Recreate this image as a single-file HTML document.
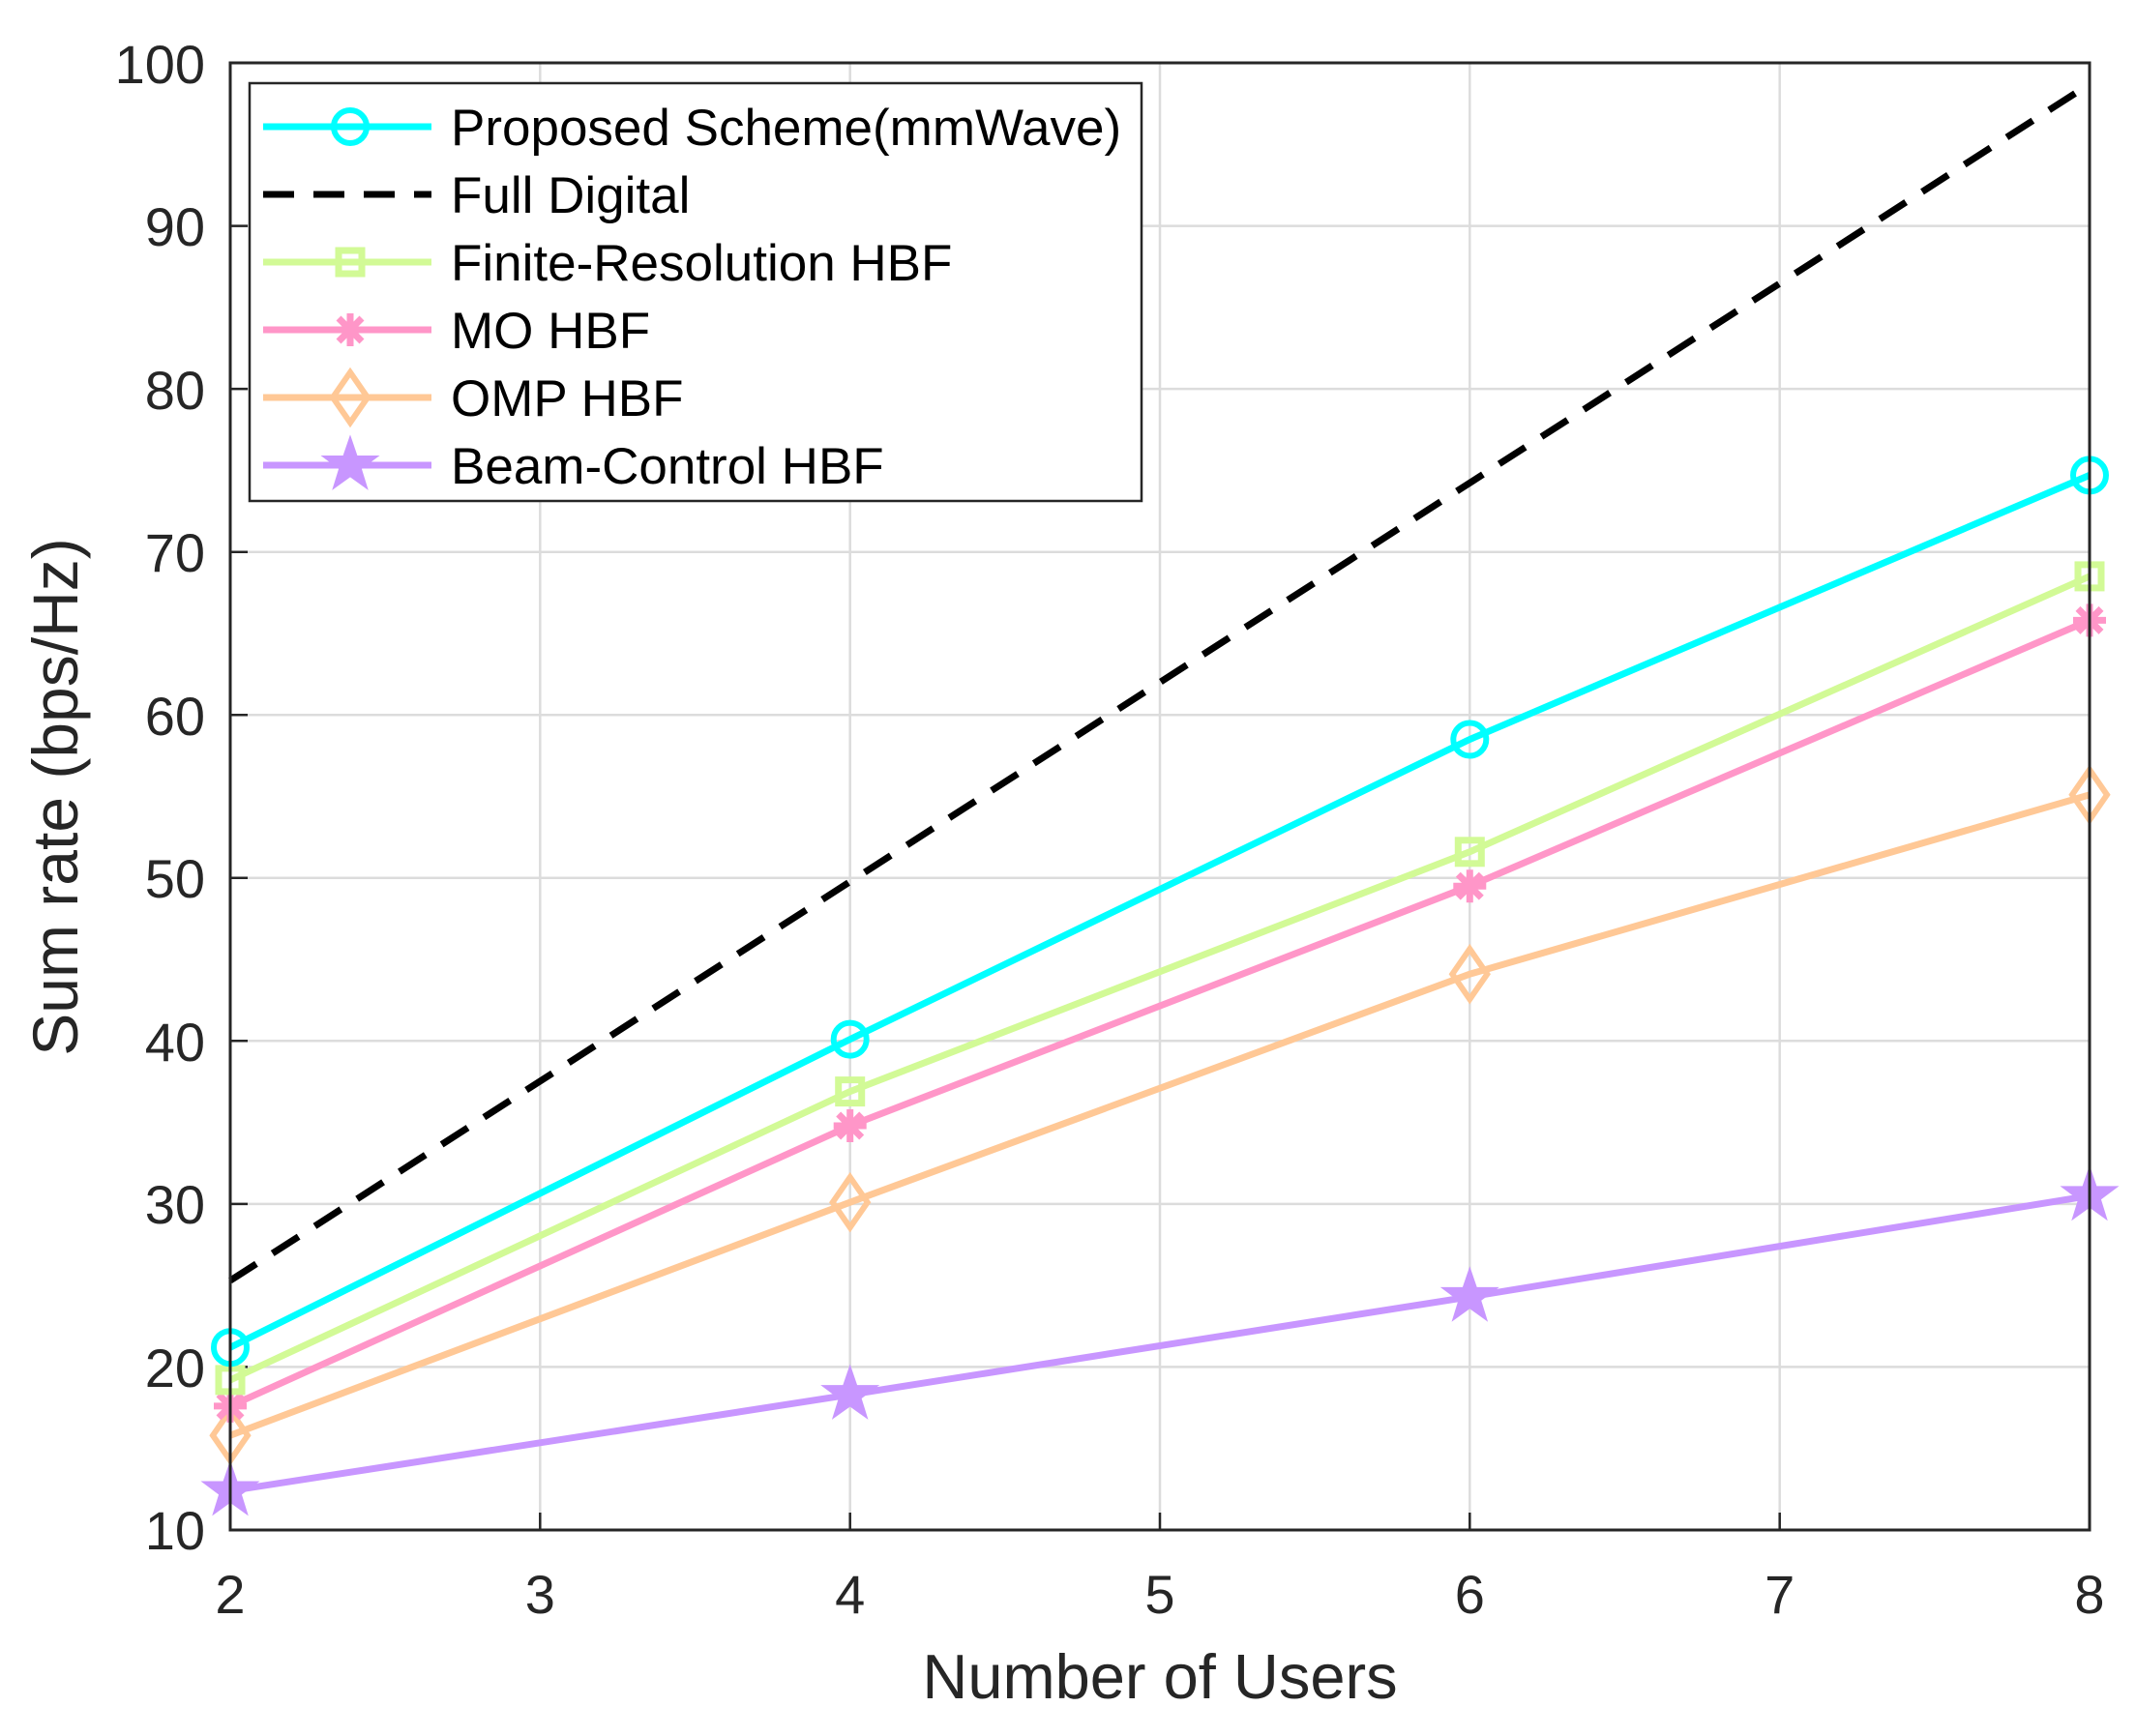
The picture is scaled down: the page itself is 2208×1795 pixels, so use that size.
<!DOCTYPE html>
<html><head><style>body{margin:0;background:#fff}</style></head><body>
<svg width="2208" height="1790" xmlns="http://www.w3.org/2000/svg" font-family="Liberation Sans, Arial, sans-serif">
<rect width="2208" height="1790" fill="#fff"/>
<g stroke="#dcdcdc" stroke-width="2.5">
<line x1="558.3" y1="65" x2="558.3" y2="1582"/><line x1="878.7" y1="65" x2="878.7" y2="1582"/><line x1="1199" y1="65" x2="1199" y2="1582"/><line x1="1519.3" y1="65" x2="1519.3" y2="1582"/><line x1="1839.7" y1="65" x2="1839.7" y2="1582"/>
<line x1="238" y1="233.6" x2="2160" y2="233.6"/><line x1="238" y1="402.1" x2="2160" y2="402.1"/><line x1="238" y1="570.7" x2="2160" y2="570.7"/><line x1="238" y1="739.2" x2="2160" y2="739.2"/><line x1="238" y1="907.8" x2="2160" y2="907.8"/><line x1="238" y1="1076.3" x2="2160" y2="1076.3"/><line x1="238" y1="1244.9" x2="2160" y2="1244.9"/><line x1="238" y1="1413.4" x2="2160" y2="1413.4"/>
</g>
<g stroke="#262626" stroke-width="2.5">
<line x1="238" y1="1582" x2="238" y2="1564"/><line x1="558.3" y1="1582" x2="558.3" y2="1564"/><line x1="878.7" y1="1582" x2="878.7" y2="1564"/><line x1="1199" y1="1582" x2="1199" y2="1564"/><line x1="1519.3" y1="1582" x2="1519.3" y2="1564"/><line x1="1839.7" y1="1582" x2="1839.7" y2="1564"/>
<line x1="238" y1="233.6" x2="256" y2="233.6"/><line x1="238" y1="402.1" x2="256" y2="402.1"/><line x1="238" y1="570.7" x2="256" y2="570.7"/><line x1="238" y1="739.2" x2="256" y2="739.2"/><line x1="238" y1="907.8" x2="256" y2="907.8"/><line x1="238" y1="1076.3" x2="256" y2="1076.3"/><line x1="238" y1="1244.9" x2="256" y2="1244.9"/><line x1="238" y1="1413.4" x2="256" y2="1413.4"/>
</g>
<g fill="#262626" font-size="56" text-anchor="end">
<text x="212" y="86">100</text><text x="212" y="254">90</text><text x="212" y="423">80</text><text x="212" y="591">70</text><text x="212" y="760">60</text><text x="212" y="928">50</text><text x="212" y="1097">40</text><text x="212" y="1265">30</text><text x="212" y="1434">20</text><text x="212" y="1602">10</text>
</g>
<g fill="#262626" font-size="56" text-anchor="middle">
<text x="238" y="1668">2</text><text x="558.3" y="1668">3</text><text x="878.7" y="1668">4</text><text x="1199" y="1668">5</text><text x="1519.3" y="1668">6</text><text x="1839.7" y="1668">7</text><text x="2160" y="1668">8</text>
<text x="1199" y="1756" font-size="65">Number of Users</text>
<text transform="translate(80,824) rotate(-90)" font-size="66">Sum rate (bps/Hz)</text>
</g>
<g fill="none" stroke-width="7">
<polyline stroke="#000" stroke-dasharray="32,20" points="238,1324.1 2160,86.9"/>
<polyline stroke="#c896ff" points="238,1541.5 878.7,1442.1 1519.3,1340.9 2160,1236.4"/>
<polyline stroke="#ffc896" points="238,1484.2 878.7,1243.2 1519.3,1007.2 2160,821.8"/>
<polyline stroke="#ff96c8" points="238,1453.9 878.7,1164 1519.3,916.2 2160,641.4"/>
<polyline stroke="#d2fa96" points="238,1426.9 878.7,1128.6 1519.3,880.8 2160,595.9"/>
<polyline stroke="#00ffff" points="238,1393.2 878.7,1074.6 1519.3,764.5 2160,491.4"/>
</g>
<defs>
<polygon id="st" points="0,-27 6.3,-8.5 26,-8.5 10.2,3.3 16,22 0,10.5 -16,22 -10.2,3.3 -26,-8.5 -6.3,-8.5" fill="#c896ff" stroke="#c896ff" stroke-width="3"/>
<polygon id="di" points="0,-26 18,0 0,26 -18,0" fill="none" stroke="#ffc896" stroke-width="6"/>
<g id="as" stroke="#ff96c8" stroke-width="7"><line x1="-17" y1="0" x2="17" y2="0"/><line x1="0" y1="-17" x2="0" y2="17"/><line x1="-12" y1="-12" x2="12" y2="12"/><line x1="-12" y1="12" x2="12" y2="-12"/></g>
<rect id="sq" x="-12" y="-12" width="24" height="24" fill="none" stroke="#d2fa96" stroke-width="7"/>
<circle id="ci" r="17" fill="none" stroke="#00ffff" stroke-width="6"/>
</defs>
<use href="#st" x="238" y="1541.5"/><use href="#st" x="878.7" y="1442.1"/><use href="#st" x="1519.3" y="1340.9"/><use href="#st" x="2160" y="1236.4"/>
<use href="#di" x="238" y="1484.2"/><use href="#di" x="878.7" y="1243.2"/><use href="#di" x="1519.3" y="1007.2"/><use href="#di" x="2160" y="821.8"/>
<use href="#as" x="238" y="1453.9"/><use href="#as" x="878.7" y="1164"/><use href="#as" x="1519.3" y="916.2"/><use href="#as" x="2160" y="641.4"/>
<use href="#sq" x="238" y="1426.9"/><use href="#sq" x="878.7" y="1128.6"/><use href="#sq" x="1519.3" y="880.8"/><use href="#sq" x="2160" y="595.9"/>
<use href="#ci" x="238" y="1393.2"/><use href="#ci" x="878.7" y="1074.6"/><use href="#ci" x="1519.3" y="764.5"/><use href="#ci" x="2160" y="491.4"/>
<rect x="238" y="65" width="1922" height="1517" fill="none" stroke="#262626" stroke-width="3"/>
<rect x="258" y="86" width="922" height="432" fill="#fff" stroke="#262626" stroke-width="2.5"/>
<g stroke-width="7" fill="none">
<line x1="272" y1="131" x2="446" y2="131" stroke="#00ffff"/>
<line x1="272" y1="201" x2="446" y2="201" stroke="#000" stroke-dasharray="32,20"/>
<line x1="272" y1="271" x2="446" y2="271" stroke="#d2fa96"/>
<line x1="272" y1="341" x2="446" y2="341" stroke="#ff96c8"/>
<line x1="272" y1="411" x2="446" y2="411" stroke="#ffc896"/>
<line x1="272" y1="481" x2="446" y2="481" stroke="#c896ff"/>
</g>
<use href="#ci" x="362" y="131"/><use href="#sq" x="362" y="271"/><use href="#as" x="362" y="341"/><use href="#di" x="362" y="411"/><use href="#st" x="362" y="481"/>
<g fill="#000" font-size="53">
<text x="466" y="150">Proposed Scheme(mmWave)</text>
<text x="466" y="220">Full Digital</text>
<text x="466" y="290">Finite-Resolution HBF</text>
<text x="466" y="360">MO HBF</text>
<text x="466" y="430">OMP HBF</text>
<text x="466" y="500">Beam-Control HBF</text>
</g>
</svg>
</body></html>
